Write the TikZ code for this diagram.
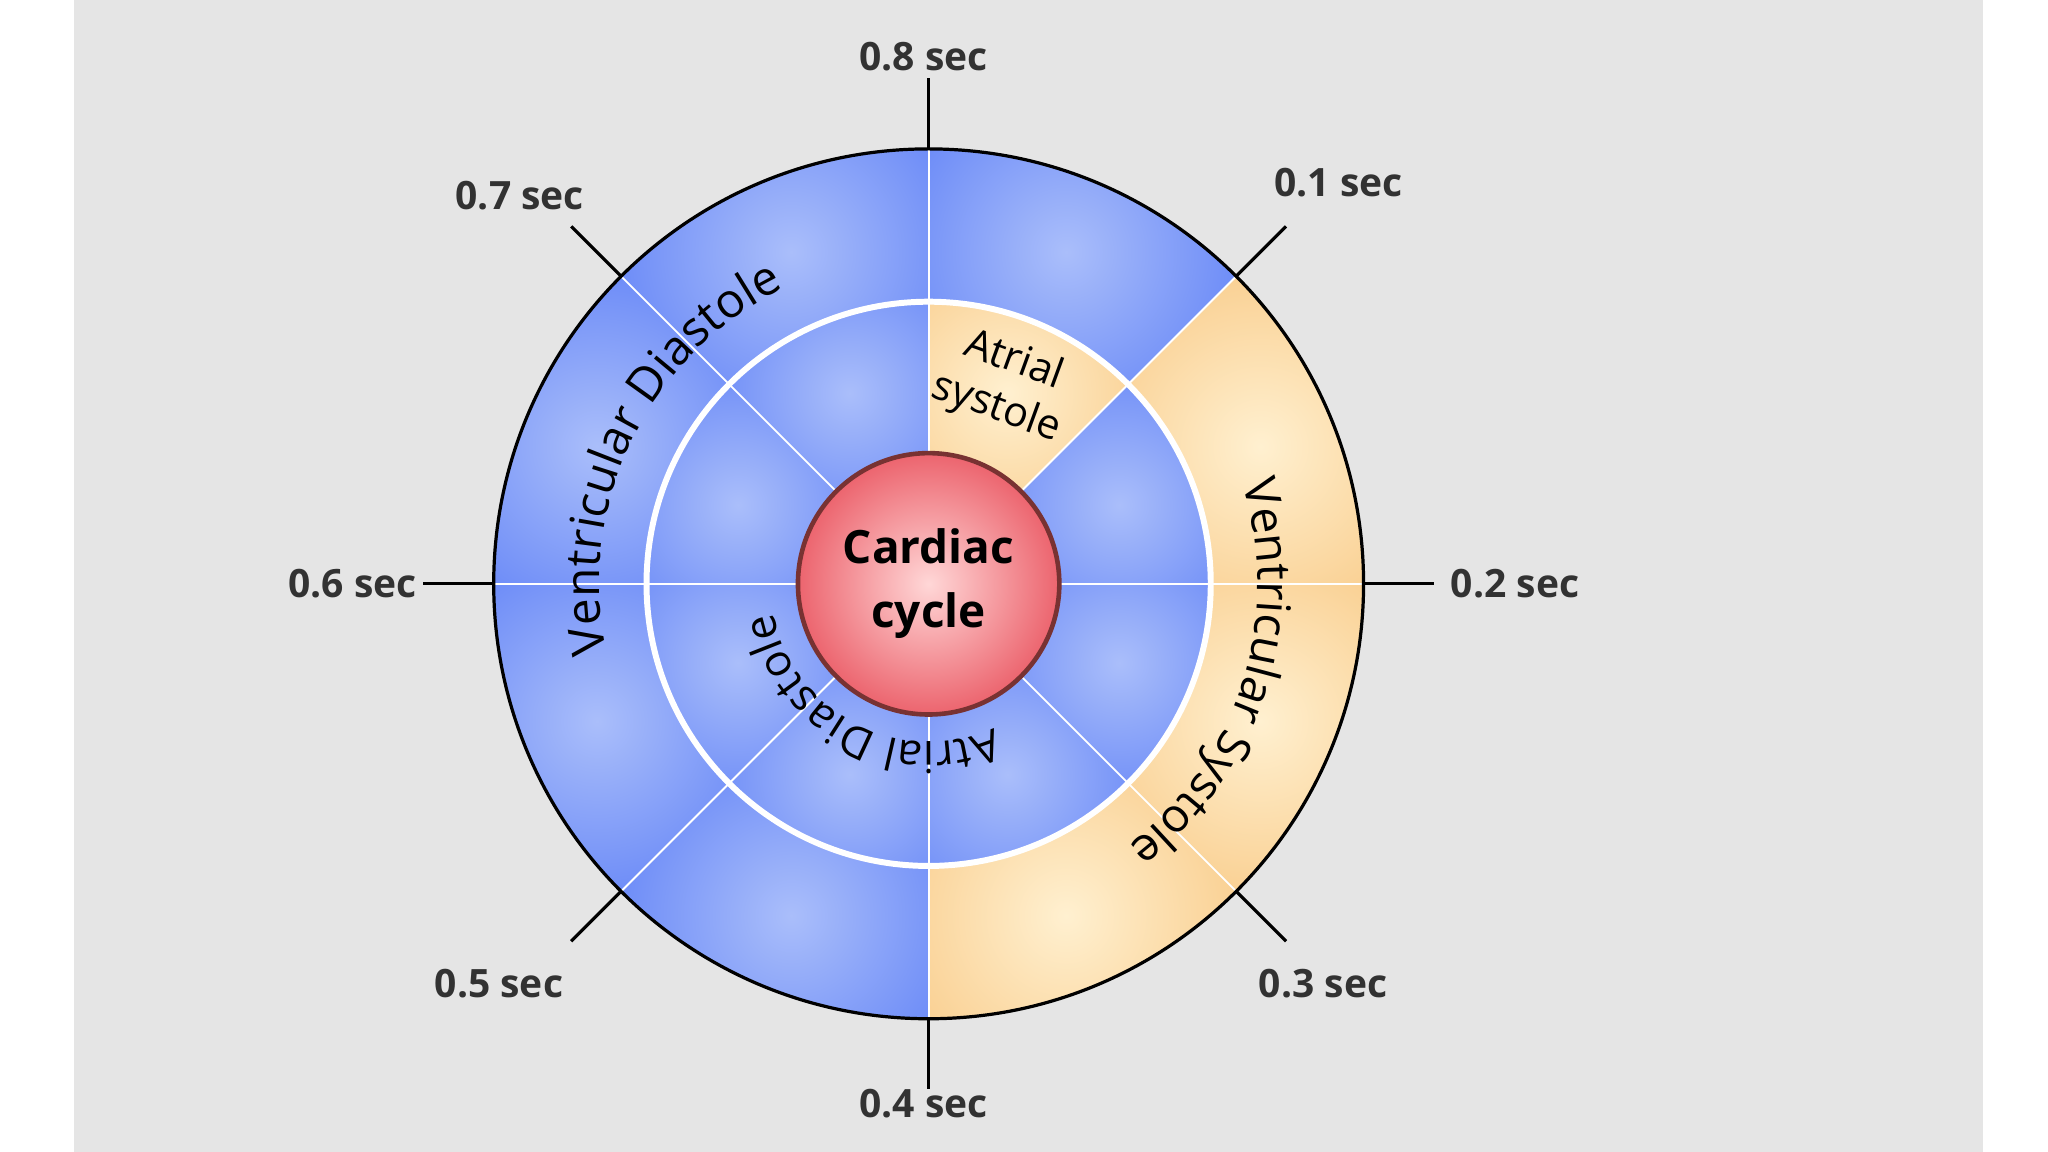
\documentclass[tikz,border=0pt]{standalone}
\usepackage{fontspec}
\setmainfont{Open Sans}
\usetikzlibrary{decorations.text}
\definecolor{bgray}{RGB}{229,229,229}
\definecolor{bblue}{RGB}{70,108,246}
\definecolor{lblue}{RGB}{170,190,250}
\definecolor{borange}{RGB}{246,188,108}
\definecolor{lorange}{RGB}{255,240,208}
\definecolor{cred}{RGB}{236,100,110}
\definecolor{lred}{RGB}{255,215,215}
\definecolor{dred}{RGB}{120,50,50}
\definecolor{tgray}{RGB}{50,50,50}
\tikzset{
  lab/.style={font=\fontsize{8.5}{10}\selectfont\bfseries, text=tgray, inner sep=1pt},
  tick/.style={line width=0.7pt, black},
}
\begin{document}
\begin{tikzpicture}[x=0.01cm,y=0.01cm]
\useasboundingbox (-711,-435) rectangle (857,447);
\fill[white] (-711,-435) rectangle (857,447);
\fill[bgray] (-654,-435) rectangle (807,447);
% ticks
\foreach \a in {90,45,0,-45,-90,-135,180,135}
  \draw[tick] (\a:333) -- (\a:387);
% segments
\foreach \k in {0,...,7}{
  \pgfmathsetmacro{\s}{90-45*\k}
  \pgfmathsetmacro{\e}{45-45*\k}
  \pgfmathsetmacro{\m}{67.5-45*\k}
  \ifnum\k>0 \ifnum\k<4 \def\oc{borange}\def\ic{lorange}\else\def\oc{bblue}\def\ic{lblue}\fi\else\def\oc{bblue}\def\ic{lblue}\fi
  \begin{scope}
    \clip (\s:333) arc[start angle=\s,end angle=\e,radius=333] -- (\e:216) arc[start angle=\e,end angle=\s,radius=216] -- cycle;
    \shade[inner color=\ic, outer color=\oc] (\m:275) circle (220);
  \end{scope}
  \ifnum\k=0 \def\oc{borange}\def\ic{lorange}\else\def\oc{bblue}\def\ic{lblue}\fi
  \begin{scope}
    \clip (\s:216) arc[start angle=\s,end angle=\e,radius=216] -- (\e:100) arc[start angle=\e,end angle=\s,radius=100] -- cycle;
    \shade[inner color=\ic, outer color=\oc] (\m:158) circle (180);
  \end{scope}
}
\foreach \a in {90,45,0,-45,-90,-135,180,135}
  \draw[white, line width=0.4pt] (\a:100) -- (\a:333);
\draw[white, line width=1.3pt] (0,0) circle (216);
\draw[black, line width=0.7pt] (0,0) circle (333);
\node[circle, minimum size=2cm, inner sep=0pt, draw=dred, line width=1pt, inner color=lred, outer color=cred] (c) at (0,0) {};
\node[font=\fontsize{10}{14}\selectfont\bfseries, align=center] (ct) at (0,0) {Cardiac\\cycle};
% labels
\node[lab] (l8) at (-4,404) {0.8 sec};
\node[lab] (l1) at (314,307) {0.1 sec};
\node[lab] (l2) at (449,0) {0.2 sec};
\node[lab] (l3) at (302,-306) {0.3 sec};
\node[lab] (l4) at (-4,-398) {0.4 sec};
\node[lab] (l5) at (-329,-306) {0.5 sec};
\node[lab] (l6) at (-441,0) {0.6 sec};
\node[lab] (l7) at (-313,297) {0.7 sec};
% curved text
\path[decorate, decoration={text along path, text align=center, text={|\fontsize{10.4}{12}\selectfont|Ventricular Diastole}}]
  (229:252) arc[start angle=229, end angle=79, radius=252];
\path[decorate, decoration={text along path, text align=center, text={|\fontsize{10.2}{12}\selectfont|Ventricular Systole}}]
  (57.5:252) arc[start angle=57.5, end angle=-92.5, radius=252];
\path[decorate, decoration={text along path, text align=center, text={|\fontsize{9.6}{12}\selectfont|Atrial Diastole}}]
  (-32.5:121) arc[start angle=-32.5, end angle=-202.5, radius=121];
\node[font=\fontsize{9}{11}\selectfont, align=center, rotate=-20] (as) at (69:163) {Atrial\\systole};
\end{tikzpicture}
\end{document}
